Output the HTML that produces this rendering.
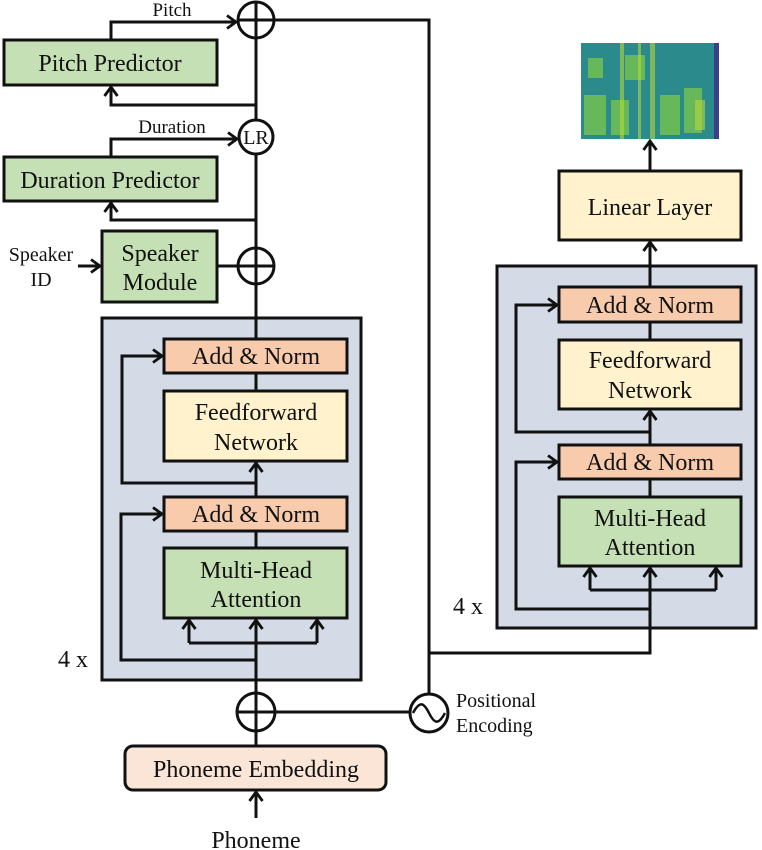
<!DOCTYPE html>
<html><head><meta charset="utf-8"><style>
html,body{margin:0;padding:0;background:#fff;}
svg{display:block;}
text{font-family:"Liberation Serif",serif;fill:#111;}
</style></head><body>
<svg width="762" height="850" viewBox="0 0 762 850" xmlns="http://www.w3.org/2000/svg">
<defs>
<marker id="a" markerWidth="16" markerHeight="16" refX="12" refY="8" orient="auto" markerUnits="userSpaceOnUse">
<path d="M3,1.5 L12,8 L3,14.5" fill="none" stroke="#111" stroke-width="2.8"/>
</marker>
</defs>
<g stroke="#111" stroke-width="3" fill="none">
<rect x="102" y="318" width="259" height="362" fill="#d4dbe6"/>
<rect x="497" y="266" width="259" height="362" fill="#d4dbe6"/>
</g>
<g stroke="#111" stroke-width="3">
<rect x="4" y="40" width="213" height="45" fill="#c5e0b4"/>
<rect x="4" y="157" width="213" height="44" fill="#c5e0b4"/>
<rect x="102" y="231" width="115" height="71" fill="#c5e0b4"/>
<rect x="164" y="339" width="183" height="34" fill="#f8cbad"/>
<rect x="164" y="391" width="183" height="70" fill="#fff2cc"/>
<rect x="164" y="497" width="183" height="34" fill="#f8cbad"/>
<rect x="164" y="548" width="183" height="70" fill="#c5e0b4"/>
<rect x="559" y="287" width="182" height="35" fill="#f8cbad"/>
<rect x="559" y="340" width="182" height="69" fill="#fff2cc"/>
<rect x="559" y="445" width="182" height="34" fill="#f8cbad"/>
<rect x="559" y="497" width="182" height="69" fill="#c5e0b4"/>
<rect x="559" y="171" width="182" height="69" fill="#fff2cc"/>
<rect x="125" y="746" width="261" height="44" rx="8" fill="#fbe5d6"/>
</g>
<rect x="581" y="43" width="138" height="96" fill="#2a8a8c"/>
<g fill="#7cc84a" opacity="0.75">
<rect x="584" y="95" width="22" height="40"/><rect x="611" y="100" width="18" height="35"/>
<rect x="660" y="95" width="20" height="40"/><rect x="684" y="88" width="18" height="45"/>
<rect x="588" y="58" width="15" height="20"/><rect x="625" y="55" width="20" height="25"/>
</g>
<g fill="#b6d83a" opacity="0.6">
<rect x="620" y="43" width="4" height="96"/><rect x="650" y="43" width="5" height="96"/>
<rect x="638" y="43" width="3" height="96"/><rect x="695" y="100" width="10" height="30"/>
</g>
<rect x="714" y="43" width="5" height="96" fill="#3b3f8a"/>
<g stroke="#111" stroke-width="3" fill="none">
<line x1="256" y1="2" x2="256" y2="339"/>
<line x1="256" y1="373" x2="256" y2="391"/>
<line x1="256" y1="531" x2="256" y2="548"/>
<line x1="256" y1="497" x2="256" y2="461"/>
<line x1="256" y1="483" x2="256" y2="463" marker-end="url(#a)"/>
<line x1="256" y1="746" x2="256" y2="618" />
<line x1="256" y1="660" x2="256" y2="620" marker-end="url(#a)"/>
<polyline points="256,483 122,483 122,356 162,356" marker-end="url(#a)"/>
<polyline points="256,660 121,660 121,514 162,514" marker-end="url(#a)"/>
<line x1="189" y1="643" x2="317" y2="643"/>
<line x1="189" y1="643" x2="189" y2="620" marker-end="url(#a)"/>
<line x1="317" y1="643" x2="317" y2="620" marker-end="url(#a)"/>
<polyline points="111,40 111,22 236,22" marker-end="url(#a)"/>
<polyline points="256,105 111,105 111,87" marker-end="url(#a)"/>
<polyline points="111,157 111,139 237,139" marker-end="url(#a)"/>
<polyline points="255,220 111,220 111,203" marker-end="url(#a)"/>
<line x1="78" y1="266" x2="100" y2="266" marker-end="url(#a)"/>
<line x1="217" y1="266" x2="237" y2="266"/>
<circle cx="256" cy="20" r="18" fill="#fff"/>
<line x1="238" y1="20" x2="274" y2="20"/><line x1="256" y1="2" x2="256" y2="38"/>
<circle cx="256" cy="137" r="17" fill="#fff"/>
<circle cx="256" cy="266" r="18" fill="none"/>
<line x1="238" y1="266" x2="274" y2="266"/>
<circle cx="256" cy="712" r="19" fill="#fff"/>
<line x1="237" y1="712" x2="275" y2="712"/><line x1="256" y1="693" x2="256" y2="731"/>
<polyline points="274,20 429,20 429,653 650,653 650,566"/>
<line x1="429" y1="653" x2="429" y2="694"/>
<line x1="275" y1="712" x2="410" y2="712"/>
<circle cx="429" cy="713" r="19" fill="#fff"/>
<path d="M413,713 C420,700 424,703 429,713 C434,723 438,726 445,713" stroke-width="2.5"/>
<line x1="650" y1="610" x2="650" y2="568" marker-end="url(#a)"/>
<line x1="590" y1="590" x2="716" y2="590"/>
<line x1="590" y1="590" x2="590" y2="568" marker-end="url(#a)"/>
<line x1="716" y1="590" x2="716" y2="568" marker-end="url(#a)"/>
<polyline points="650,609 516,609 516,462 557,462" marker-end="url(#a)"/>
<line x1="650" y1="479" x2="650" y2="497"/>
<line x1="650" y1="445" x2="650" y2="409"/>
<line x1="650" y1="432" x2="650" y2="411" marker-end="url(#a)"/>
<polyline points="650,432 516,432 516,305 557,305" marker-end="url(#a)"/>
<line x1="650" y1="322" x2="650" y2="340"/>
<line x1="650" y1="287" x2="650" y2="242" marker-end="url(#a)"/>
<line x1="650" y1="171" x2="650" y2="141" marker-end="url(#a)"/>
<line x1="256" y1="818" x2="256" y2="792" marker-end="url(#a)"/>
</g>
<g font-size="24" text-anchor="middle">
<text x="110" y="71">Pitch Predictor</text>
<text x="110" y="188">Duration Predictor</text>
<text x="160" y="261">Speaker</text>
<text x="160" y="290">Module</text>
<text x="256" y="364">Add &amp; Norm</text>
<text x="256" y="420">Feedforward</text>
<text x="256" y="450">Network</text>
<text x="256" y="522">Add &amp; Norm</text>
<text x="256" y="578">Multi-Head</text>
<text x="256" y="607">Attention</text>
<text x="650" y="313">Add &amp; Norm</text>
<text x="650" y="368">Feedforward</text>
<text x="650" y="398">Network</text>
<text x="650" y="470">Add &amp; Norm</text>
<text x="650" y="526">Multi-Head</text>
<text x="650" y="555">Attention</text>
<text x="650" y="215">Linear Layer</text>
<text x="256" y="777">Phoneme Embedding</text>
<text x="256" y="848">Phoneme</text>
</g>
<g font-size="19">
<text x="172" y="16" text-anchor="middle">Pitch</text>
<text x="172" y="133" text-anchor="middle">Duration</text>
<text x="256" y="144" text-anchor="middle" font-size="20">LR</text>
<text x="41" y="261" text-anchor="middle" font-size="20">Speaker</text>
<text x="41" y="286" text-anchor="middle" font-size="20">ID</text>
<text x="456" y="707" font-size="20">Positional</text>
<text x="456" y="732" font-size="20">Encoding</text>
</g>
<g font-size="24">
<text x="58" y="667">4 x</text>
<text x="453" y="614">4 x</text>
</g>
</svg>
</body></html>
